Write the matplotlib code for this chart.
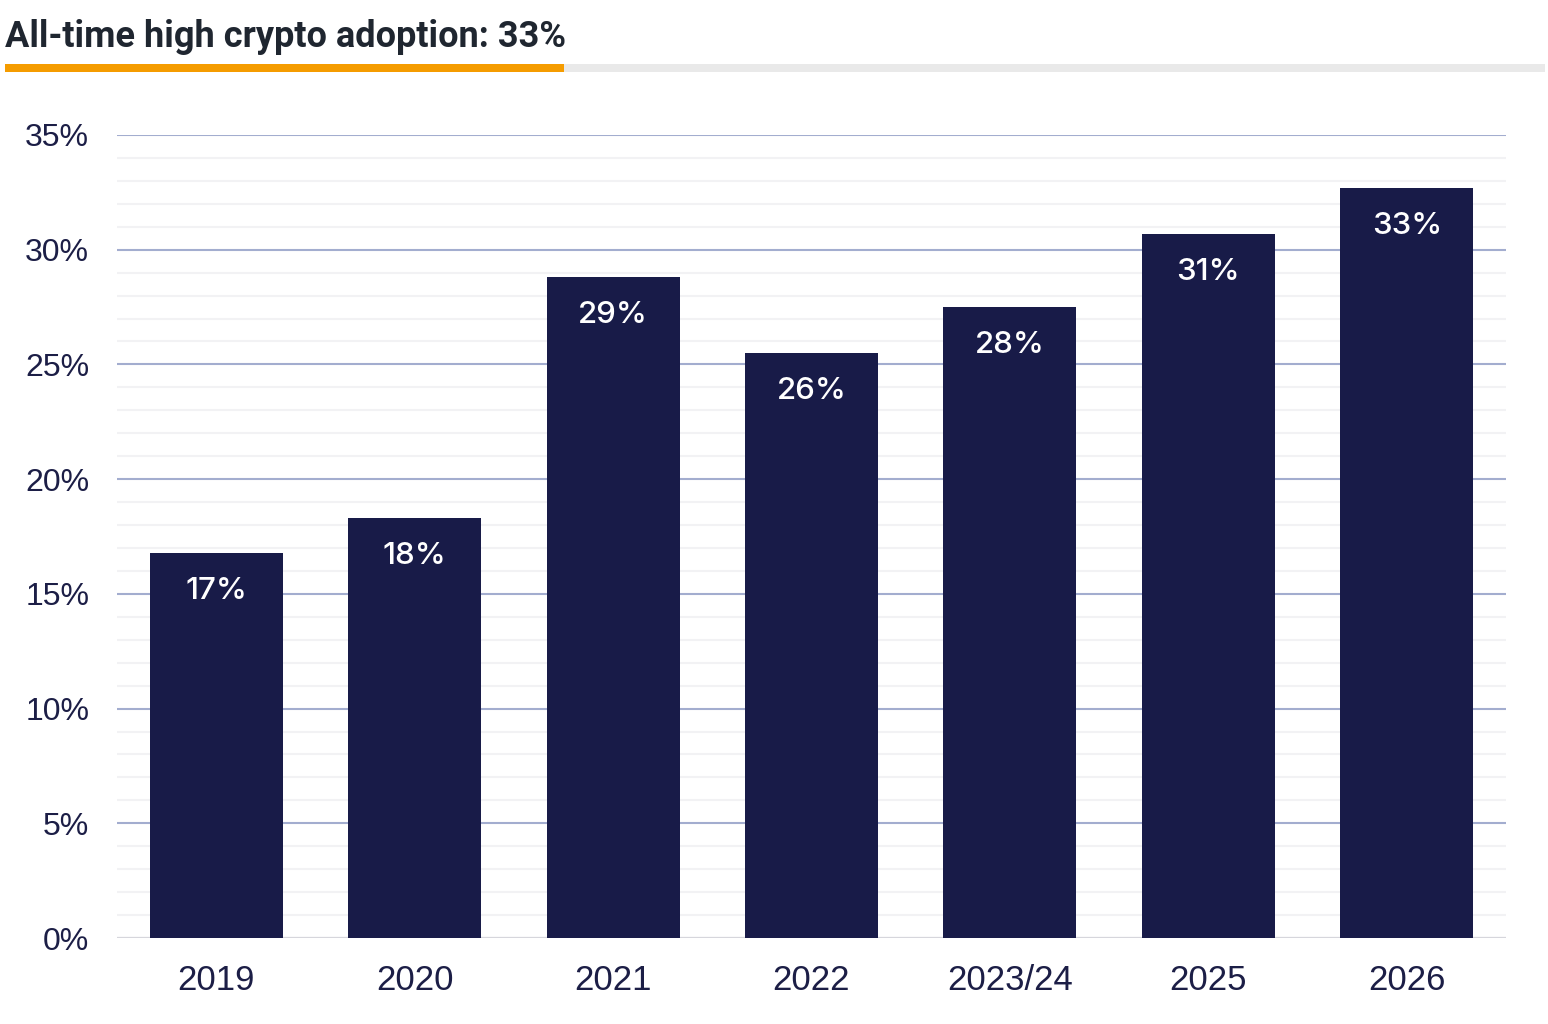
import matplotlib
matplotlib.use("Agg")
import matplotlib.pyplot as plt
from matplotlib.patches import Rectangle
from matplotlib.ticker import MultipleLocator, FuncFormatter

categories = ["2019", "2020", "2021", "2022", "2023/24", "2025", "2026"]
values = [16.8, 18.3, 28.8, 25.5, 27.5, 30.7, 32.7]
labels = ["17%", "18%", "29%", "26%", "28%", "31%", "33%"]
title = "All-time high crypto adoption: 33%"

W, H = 1548, 1024
fig = plt.figure(figsize=(W / 100, H / 100), dpi=100)
fig.patch.set_facecolor("white")

ax = fig.add_axes([117 / W, 1 - 938 / H, (1506 - 117) / W, (938 - 135) / H])
bar_color = "#181b48"
text_color = "#1c1e46"

x = list(range(len(categories)))
ax.bar(x, values, width=0.67, color=bar_color, zorder=3)
for xi, v, lab in zip(x, values, labels):
    ax.annotate(lab, (xi, v), xytext=(0, -38), textcoords="offset pixels",
                ha="center", va="center", color="white", fontsize=22.5,
                family="Inter", fontweight="medium", zorder=4)

ax.set_xlim(-0.5, len(categories) - 0.5)
ax.set_ylim(0, 35)
ax.yaxis.set_major_locator(MultipleLocator(5))
ax.yaxis.set_minor_locator(MultipleLocator(1))
ax.yaxis.set_major_formatter(FuncFormatter(lambda v, p: f"{v:.0f}%"))
ax.grid(which="major", axis="y", color="#a3adcf", linewidth=1.5, zorder=1)
ax.grid(which="minor", axis="y", color="#f2f2f4", linewidth=1.5, zorder=0)
ax.axhline(0, color="#d6d6dc", linewidth=1.5, zorder=2)
ax.set_xticks(x)
ax.set_xticklabels(categories)
for s in ax.spines.values():
    s.set_visible(False)
ax.tick_params(axis="y", which="both", length=0, pad=20, labelsize=23,
               labelcolor=text_color)
ax.tick_params(axis="x", length=0, pad=19, labelsize=25, labelcolor=text_color)
for t in ax.get_xticklabels() + ax.get_yticklabels():
    t.set_family("Liberation Sans")

fig.text(5 / W, 1 - 47 / H, title, ha="left", va="baseline", fontsize=26,
         family="Roboto", fontweight="bold", color="#1f2630")
fig.add_artist(Rectangle((564 / W, 1 - 72 / H), (1545 - 564) / W, 8 / H,
                         transform=fig.transFigure, color="#e9e9e9", lw=0))
fig.add_artist(Rectangle((5 / W, 1 - 72 / H), (564 - 5) / W, 8 / H,
                         transform=fig.transFigure, color="#f59c00", lw=0))

fig.savefig("out.png", dpi=100, facecolor="white")
